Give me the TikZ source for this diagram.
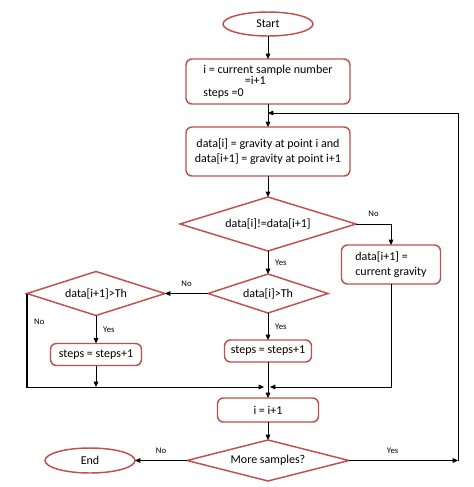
\documentclass[tikz,border=0pt]{standalone}
\usepackage{fontspec}
\setmainfont{Carlito}
\usetikzlibrary{arrows.meta}
\usetikzlibrary{positioning}
\usetikzlibrary{shapes.geometric}
\definecolor{boxred}{HTML}{C0504D}

\begin{document}
\begin{tikzpicture}[
  node distance=17.25pt,
  process/.style={rectangle, draw=boxred, fill=white, line width=1.1pt,
    rounded corners=4.5pt, align=center, inner sep=2pt, outer sep=0pt,
    font=\fontsize{9}{11.25}\selectfont},
  terminal/.style={ellipse, draw=boxred, fill=white, line width=1.1pt,
    inner sep=0pt, outer sep=0pt, minimum width=67.5pt, minimum height=18pt,
    font=\fontsize{9}{11.25}\selectfont},
  decision/.style={diamond, draw=boxred, fill=white, line width=1.1pt,
    aspect=3, inner sep=0pt, outer sep=0pt, font=\fontsize{9}{11.25}\selectfont},
  arrow/.style={-{Triangle[length=4pt,width=3.5pt]}, line width=0.75pt, draw=black},
  yesno/.style={font=\fontsize{6.5}{8}\selectfont, inner sep=1pt},
]
\useasboundingbox (0,0) rectangle (355.5pt,-365.25pt);

% === Main column ===
\node[terminal] (start) at (201pt,-18pt) {Start};
\node[process, below=of start, minimum width=123pt, minimum height=33.75pt, align=left] (init)
  {i = current sample number\\[-2.5pt]\hspace*{31pt}=i+1\\[-2.5pt]steps =0};
\node[process, below=of init, minimum width=123pt, minimum height=36.75pt] (gather)
  {data[i] = gravity at point i and\\data[i+1] = gravity at point i+1};
\node[decision, below=15.75pt of gather, minimum width=132pt, minimum height=40.5pt] (diff)
  {data[i]!=data[i+1]};
\node[decision, below=of diff, minimum width=90pt, minimum height=29.25pt] (gtTh)
  {data[i]>Th};
\node[process, below=20.25pt of gtTh, minimum width=65.25pt, minimum height=16.5pt] (inc1)
  {steps = steps+1};
\node[process, below=27pt of inc1, minimum width=75.75pt, minimum height=18pt] (incI)
  {i = i+1};
\node[decision, below=13.5pt of incI, minimum width=121.5pt, minimum height=30.75pt] (more)
  {More samples?};
\node[terminal, left=39pt of more, minimum height=18.75pt] (end) {End};

% === Side branches ===
\node[process, below=15.75pt of diff.east, xshift=26.25pt, anchor=north,
  minimum width=74.25pt, minimum height=29.25pt, align=left] (update)
  {data[i+1] =\\current gravity};
\node[decision, left=32.25pt of gtTh, minimum width=103.5pt, minimum height=33pt] (prevTh)
  {data[i+1]>Th};
\node[process, below=21pt of prevTh, minimum width=68.25pt, minimum height=16.5pt] (inc2)
  {steps = steps+1};

% === Helper points ===
\coordinate[below=18.75pt of inc1] (join);
\coordinate[right=81.75pt of more] (loopR);
\coordinate[below=6.75pt of init] (loopIn);

% === Connectors ===
\draw[arrow] (start) -- (init);
\draw[arrow] (init) -- (gather);
\draw[arrow] (gather) -- (diff);
\draw[arrow] (diff.east) -| node[yesno, pos=0.25, above=4pt] {No} (update.north);
\draw[arrow] (diff) -- node[yesno, right=4pt] {Yes} (gtTh);
\draw[arrow] (gtTh.west) -- node[yesno, above=4pt] {No} (prevTh.east);
\draw[arrow] (gtTh) -- node[yesno, right=4pt] {Yes} (inc1);
\draw[arrow] (prevTh) -- node[yesno, right=4pt] {Yes} (inc2);
\draw[arrow] (prevTh.west) |- node[yesno, pos=0.15, right=4pt] {No} ([xshift=-3pt]join);
\draw[arrow] (inc2) -- (inc2 |- join);
\draw[arrow] (update.south) |- ([xshift=1.5pt]join);
\draw[arrow] (inc1) -- (incI);
\draw[arrow] (incI) -- (more);
\draw[arrow] (more.west) -- node[yesno, above=4pt] {No} (end);
\draw[arrow] (more.east) -- node[yesno, pos=0.4, above=4pt] {Yes} (loopR);
\draw[arrow] (loopR) |- (loopIn);
\end{tikzpicture}
\end{document}
